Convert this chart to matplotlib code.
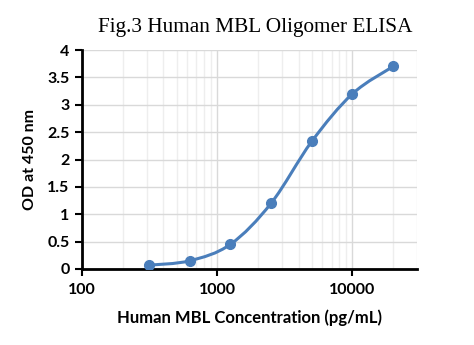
import numpy as np
import matplotlib
matplotlib.use('Agg')
import matplotlib.pyplot as plt
from matplotlib.path import Path
from matplotlib.patches import PathPatch

# data
conc = [312.5, 625, 1250, 2500, 5000, 10000, 20000]   # pg/mL
od = [0.07, 0.15, 0.45, 1.2, 2.33, 3.2, 3.7]
yticks = [0, 0.5, 1, 1.5, 2, 2.5, 3, 3.5, 4]
ytick_labels = ['0', '0.5', '1', '1.5', '2', '2.5', '3', '3.5', '4']
xticks = [100, 1000, 10000]
xtick_labels = ['100', '1000', '10000']

blue = '#4a7ebb'
sans = ['Lato', 'DejaVu Sans']

fig = plt.figure(figsize=(4.74, 3.45), dpi=100)
ax = fig.add_axes([82/474, 1 - 269/345, (417-82)/474, (269-50)/345])
ax.set_xscale('log')
ax.set_xlim(100, 30000)
ax.set_ylim(0, 4)

# smoothed line like excel: bezier segments built from the points (log-x space)
lx = np.log10(conc)
y = np.array(od)
n = len(lx)
verts = [(conc[0], od[0])]
codes = [Path.MOVETO]
for i in range(n - 1):
    p0 = (lx[max(i-1, 0)], y[max(i-1, 0)])
    p1 = (lx[i], y[i])
    p2 = (lx[i+1], y[i+1])
    p3 = (lx[min(i+2, n-1)], y[min(i+2, n-1)])
    c1 = (p1[0] + (p2[0]-p0[0])/6, p1[1] + (p2[1]-p0[1])/6)
    c2 = (p2[0] - (p3[0]-p1[0])/6, p2[1] - (p3[1]-p1[1])/6)
    verts += [(10**c1[0], c1[1]), (10**c2[0], c2[1]), (10**p2[0], p2[1])]
    codes += [Path.CURVE4]*3
ax.add_patch(PathPatch(Path(verts, codes), fill=False, edgecolor=blue, lw=2.2, zorder=3))
ax.plot(conc, od, 'o', color=blue, ms=7, zorder=4)

ax.set_xticks(xticks)
ax.set_xticklabels(xtick_labels)
ax.set_yticks(yticks)
ax.set_yticklabels(ytick_labels)
ax.minorticks_on()
ax.yaxis.set_minor_locator(plt.NullLocator())
ax.grid(True, which='major', color='#d9d9d9', lw=1)
ax.grid(True, which='minor', axis='x', color='#eeeeee', lw=1)
ax.set_axisbelow(True)

for s in ['top', 'right']:
    ax.spines[s].set_visible(False)
for s in ['left', 'bottom']:
    ax.spines[s].set_linewidth(2)
ax.tick_params(which='major', length=5, width=1.5, color='black', pad=4)
ax.tick_params(which='minor', length=0)
for lab in ax.get_xticklabels() + ax.get_yticklabels():
    lab.set_family(sans)
    lab.set_fontweight('bold')
    lab.set_fontsize(11.5)
ax.tick_params(axis='x', pad=5)

ax.set_xlabel('Human MBL Concentration (pg/mL)', family=sans, fontweight='bold', fontsize=12, labelpad=9)
ax.set_ylabel('OD at 450 nm', family=sans, fontweight='bold', fontsize=11.5, labelpad=7)
fig.text(0.538, 1 - 32/345, 'Fig.3 Human MBL Oligomer ELISA', family=['Liberation Serif', 'DejaVu Serif'],
         fontsize=15.3, ha='center', va='baseline')

fig.savefig('out.png', dpi=100)
